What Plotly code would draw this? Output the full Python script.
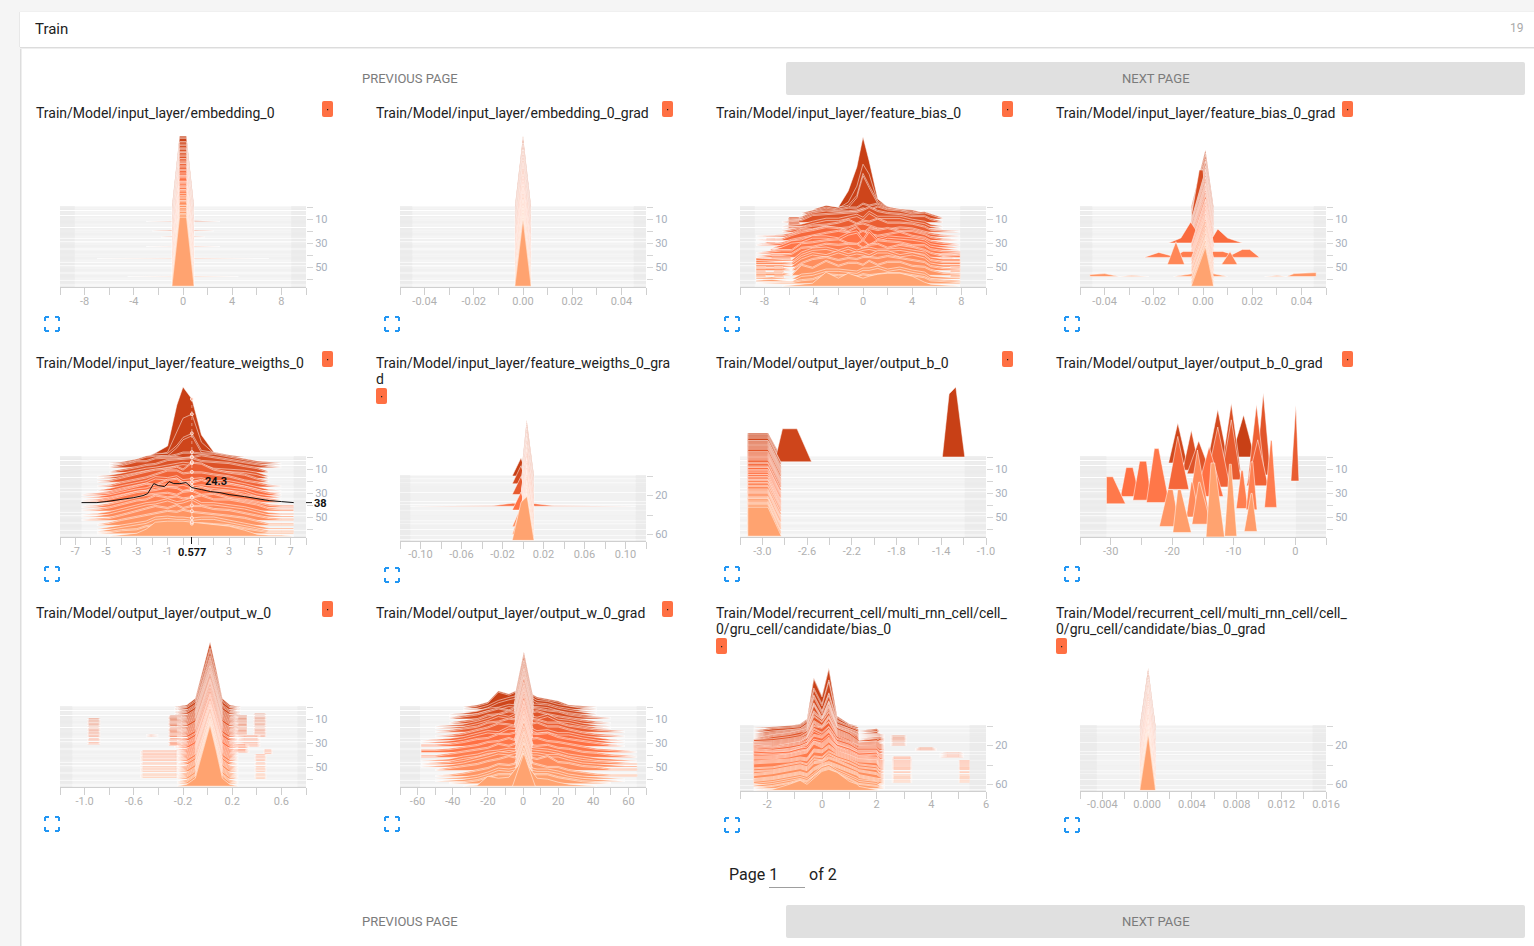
import plotly.graph_objects as go

PAGE_W, PAGE_H = 1534, 946

# ---------- shared data ----------
missing_steps = [3, 7, 17, 26, 29, 35, 46, 49, 55, 61, 65]
recorded_steps = [s for s in range(67) if s not in missing_steps]

panel_titles = [
    ["Train/Model/input_layer/embedding_0"],
    ["Train/Model/input_layer/embedding_0_grad"],
    ["Train/Model/input_layer/feature_bias_0"],
    ["Train/Model/input_layer/feature_bias_0_grad"],
    ["Train/Model/input_layer/feature_weigths_0"],
    ["Train/Model/input_layer/feature_weigths_0_gra", "d"],
    ["Train/Model/output_layer/output_b_0"],
    ["Train/Model/output_layer/output_b_0_grad"],
    ["Train/Model/output_layer/output_w_0"],
    ["Train/Model/output_layer/output_w_0_grad"],
    ["Train/Model/recurrent_cell/multi_rnn_cell/cell_", "0/gru_cell/candidate/bias_0"],
    ["Train/Model/recurrent_cell/multi_rnn_cell/cell_", "0/gru_cell/candidate/bias_0_grad"],
]

# x axis: range, ticks, labels
x_ranges = [[-10, 10], [-0.05, 0.05], [-10, 10], [-0.05, 0.05], [-8, 8], [-0.12, 0.12],
            [-3.2, -1.0], [-35, 5], [-1.2, 0.8], [-70, 70], [-3, 6], [-0.006, 0.016]]
x_ticks = [
    [-10, -8, -6, -4, -2, 0, 2, 4, 6, 8, 10],
    [-0.05, -0.04, -0.03, -0.02, -0.01, 0, 0.01, 0.02, 0.03, 0.04, 0.05],
    [-10, -8, -6, -4, -2, 0, 2, 4, 6, 8, 10],
    [-0.05, -0.04, -0.03, -0.02, -0.01, 0, 0.01, 0.02, 0.03, 0.04, 0.05],
    [-8, -7, -6, -5, -4, -3, -2, -1, 0, 1, 2, 3, 4, 5, 6, 7, 8],
    [-0.12, -0.10, -0.08, -0.06, -0.04, -0.02, 0, 0.02, 0.04, 0.06, 0.08, 0.10, 0.12],
    [-3.2, -3.0, -2.8, -2.6, -2.4, -2.2, -2.0, -1.8, -1.6, -1.4, -1.2, -1.0],
    [-35, -30, -25, -20, -15, -10, -5, 0, 5],
    [-1.2, -1.0, -0.8, -0.6, -0.4, -0.2, 0, 0.2, 0.4, 0.6, 0.8],
    [-70, -60, -50, -40, -30, -20, -10, 0, 10, 20, 30, 40, 50, 60, 70],
    [-3, -2, -1, 0, 1, 2, 3, 4, 5, 6],
    [-0.006, -0.004, -0.002, 0, 0.002, 0.004, 0.006, 0.008, 0.010, 0.012, 0.014, 0.016],
]
x_labels = [
    ["", "-8", "", "-4", "", "0", "", "4", "", "8", ""],
    ["", "-0.04", "", "-0.02", "", "0.00", "", "0.02", "", "0.04", ""],
    ["", "-8", "", "-4", "", "0", "", "4", "", "8", ""],
    ["", "-0.04", "", "-0.02", "", "0.00", "", "0.02", "", "0.04", ""],
    ["", "-7", "", "-5", "", "-3", "", "-1", "", "", "", "3", "", "5", "", "7", ""],
    ["", "-0.10", "", "-0.06", "", "-0.02", "", "0.02", "", "0.06", "", "0.10", ""],
    ["", "-3.0", "", "-2.6", "", "-2.2", "", "-1.8", "", "-1.4", "", "-1.0"],
    ["", "-30", "", "-20", "", "-10", "", "0", ""],
    ["", "-1.0", "", "-0.6", "", "-0.2", "", "0.2", "", "0.6", ""],
    ["", "-60", "", "-40", "", "-20", "", "0", "", "20", "", "40", "", "60", ""],
    ["", "-2", "", "0", "", "2", "", "4", "", "6"],
    ["", "-0.004", "", "0.000", "", "0.004", "", "0.008", "", "0.012", "", "0.016"],
]
# darker band ends of each panel
band_edges = [[-8.8, 8.8], [-0.045, 0.045], [-8.8, 7.9], [-0.045, 0.045], [-6.6, 7.2], [-0.11, 0.11],
              [-3.2, -1.19], [-30.7, 0.1], [-1.1, 0.73], [-58.6, 64.7], [-2.5, 5.4], [-0.0045, 0.0148]]

# ---------- spike families (one peak value per recorded step) ----------
embedding_x = [-0.9, -0.28, 0.28, 0.9]
embedding_shape = [0, 1, 1, 0]
embedding_peaks = [71, 71, 71, 70, 71, 70, 71, 70, 70, 71, 70, 70, 71, 70, 70, 70, 71, 70, 70, 70, 71, 70, 70, 70, 70, 70, 69, 70, 70, 70,
                   69, 70, 70, 70, 69, 70, 70, 69, 70, 70, 70, 69, 70, 70, 69, 70, 70, 69, 70, 69, 70, 69, 70, 69, 69, 69]
embed_grad_x = [-0.0033, 0.0, 0.0033]
embed_grad_shape = [0, 1, 0]
embed_grad_peaks = [71, 70, 70, 69, 70, 69, 70, 69, 69, 70, 69, 69, 70, 69, 69, 69, 70, 69, 69, 69, 69, 69, 69, 69, 68, 69, 69, 68, 69, 68,
                    69, 68, 68, 69, 68, 68, 68, 68, 68, 68, 68, 68, 68, 68, 68, 68, 67, 68, 67, 68, 67, 67, 67, 67, 67, 67]
fbias_grad_x = [-0.0048, 0.001, 0.0043]
fbias_grad_shape = [0, 1, 0]
fbias_grad_peaks = [57, 55, 54, 53, 52, 52, 51, 51, 50, 50, 50, 49, 49, 48, 48, 48, 47, 47, 47, 46, 46, 46, 45, 45, 45, 44, 44, 44, 43, 43,
                    43, 43, 42, 42, 42, 41, 41, 41, 41, 40, 40, 40, 40, 40, 39, 39, 39, 39, 39, 39, 39, 39, 39, 39, 39, 39]
fw_grad_x = [-0.002, 0.0036, 0.0107]
fw_grad_shape = [0, 1, 0]
fw_grad_peaks = [56, 55, 54, 54, 53, 53, 53, 52, 52, 52, 51, 51, 51, 51, 50, 50, 50, 50, 50, 49, 49, 49, 49, 49, 48, 48, 48, 48, 48, 47,
                 47, 47, 47, 47, 46, 46, 46, 46, 46, 46, 46, 45, 45, 45, 45, 45, 45, 45, 45, 44, 44, 44, 44, 44, 44, 44]
b0_x = [-3.13, -3.13, -2.95, -2.83]
b0_shape = [0, 1, 1, 0]
b0_peaks = [24, 25, 25, 26, 26, 26, 26, 27, 27, 27, 27, 27, 27, 27, 27, 27, 27, 27, 27, 27, 27, 27, 27, 27, 27, 27, 27, 28, 27, 27,
            28, 27, 28, 27, 28, 27, 28, 28, 27, 28, 28, 28, 28, 28, 28, 28, 28, 28, 28, 28, 29, 28, 29, 29, 29, 29]
wout_x = [-0.25, -0.17, -0.1, -0.04, 0.02, 0.07, 0.12, 0.18, 0.25]
wout_shape = [0, 0.03, 0.13, 0.58, 1, 0.58, 0.13, 0.03, 0]
wout_peaks = [65, 60, 58, 56, 55, 54, 54, 53, 53, 53, 52, 52, 52, 52, 51, 51, 51, 51, 51, 51, 51, 50, 50, 50, 50, 50, 50, 50, 50, 50,
              50, 50, 51, 51, 51, 51, 52, 52, 52, 53, 53, 53, 54, 54, 55, 55, 56, 56, 57, 57, 58, 58, 59, 60, 60, 61]
wgrad_x = [-6, -3, 0.5, 4, 7]
wgrad_shape = [0, 0.45, 1, 0.45, 0]
wgrad_peaks = [55, 54, 53, 52, 52, 51, 51, 50, 50, 50, 49, 49, 48, 48, 48, 47, 47, 46, 46, 45, 45, 45, 44, 44, 44, 43, 43, 43, 42, 42,
               42, 41, 41, 41, 40, 40, 40, 39, 39, 39, 38, 38, 38, 37, 37, 37, 36, 36, 36, 35, 35, 35, 34, 34, 33, 33]
cbias_grad_x = [-0.00065, 0.0001, 0.00075]
cbias_grad_shape = [0, 1, 0]
cbias_grad_peaks = [58, 58, 58, 58, 57, 58, 57, 58, 57, 57, 58, 57, 57, 57, 57, 57, 57, 57, 57, 57, 57, 57, 57, 57, 57, 57, 57, 56, 57, 56,
                    57, 56, 57, 56, 56, 56, 56, 56, 56, 56, 56, 56, 56, 56, 56, 56, 56, 56, 56, 56, 56, 56, 56, 56, 56, 56]

# ---------- gridded ridges (one row of counts per listed step, held for a few steps) ----------
fbias_bins = [-8.7, -7.4, -6.6, -5.8, -5, -4.1, -3, -2, -1.2, -0.5, 0, 0.5, 1.2, 2, 3, 4, 5, 5.5, 6.5, 7.9]
fbias_steps = [0, 1, 2, 5, 9, 12, 16, 20, 24, 27, 31, 34, 38, 41, 45, 48, 52, 56, 60, 63, 66]
fbias_rows = [
    [0, 0, 0, 0, 0, 0, 0, 0, 16, 40, 70, 46, 8, 0, 0, 0, 0, 0, 0, 0],
    [0, 0, 0, 0, 0, 0, 0, 0, 6, 22, 44, 34, 6, 0, 0, 0, 0, 0, 0, 0],
    [0, 0, 0, 0, 0, 0, 4, 2, 4, 14, 36, 24, 8, 3, 0, 0, 0, 0, 0, 0],
    [0, 0, 0, 0, 0, 3, 6, 4, 6, 6, 10, 8, 10, 6, 4, 3, 0, 0, 0, 0],
    [0, 0, 0, 0, 1, 6, 8, 7, 7, 8, 10, 8, 12, 9, 8, 5, 6, 4, 0, 0],
    [0, 0, 0, 1, 2, 7, 8, 9, 9, 10, 12, 15, 11, 9, 8, 6, 6, 3, 0, 0],
    [0, 0, 0, 1, 2, 5, 8, 8, 10, 12, 9, 15, 10, 10, 10, 7, 5, 2, 0, 0],
    [0, 0, 0, 2, 4, 6, 7, 9, 12, 8, 11, 10, 13, 9, 9, 8, 5, 2, 1, 0],
    [0, 1, 1, 3, 7, 7, 10, 8, 9, 12, 13, 11, 8, 7, 9, 8, 5, 3, 1, 0],
    [0, 1, 1, 5, 8, 10, 13, 12, 9, 13, 7, 12, 10, 12, 9, 9, 6, 3, 1, 0],
    [0, 1, 2, 5, 7, 10, 12, 14, 12, 11, 14, 11, 9, 11, 13, 9, 7, 4, 2, 0],
    [0, 0, 3, 7, 8, 12, 12, 10, 15, 17, 9, 18, 9, 12, 11, 10, 8, 4, 2, 0],
    [0, 2, 3, 3, 10, 11, 13, 14, 10, 9, 13, 8, 13, 12, 11, 8, 8, 4, 2, 1],
    [0, 2, 2, 3, 9, 10, 13, 12, 13, 13, 9, 12, 13, 9, 12, 10, 7, 4, 1, 2],
    [3, 2, 2, 1, 9, 13, 14, 11, 14, 11, 13, 14, 12, 12, 13, 11, 9, 4, 2, 2],
    [2, 2, 2, 1, 8, 12, 10, 14, 11, 13, 12, 10, 14, 14, 10, 12, 9, 4, 2, 2],
    [2, 2, 2, 0, 7, 11, 13, 10, 12, 11, 13, 13, 12, 14, 12, 10, 8, 4, 2, 1],
    [2, 2, 2, 0, 10, 7, 14, 9, 12, 12, 10, 14, 10, 13, 13, 9, 8, 5, 2, 1],
    [1, 2, 1, 0, 5, 6, 10, 10, 9, 8, 11, 11, 13, 10, 12, 9, 7, 3, 2, 1],
    [0, 1, 1, 1, 3, 4, 9, 8, 8, 7, 9, 8, 9, 10, 10, 8, 6, 3, 2, 1],
    [0, 0, 0, 1, 2, 3, 14, 8, 13, 10, 8, 10, 12, 13, 13, 10, 4, 2, 1, 0],
]
fweights_bins = [-6.6, -5.6, -4.8, -4, -3, -2.4, -1.8, -1, -0.4, 0, 0.58, 1.2, 2, 3, 4, 4.8, 5.6, 6.4, 7.2]
fweights_steps = [0, 1, 2, 5, 8, 12, 16, 20, 24, 28, 31, 34, 37, 41, 44, 48, 52, 56, 60, 63, 66]
fweights_rows = [
    [0, 0, 0, 0, 0, 0, 4, 11, 52, 70, 58, 22, 5, 2, 0, 0, 0, 0, 0],
    [0, 0, 0, 0, 0, 0, 3, 6, 26, 40, 44, 16, 5, 0, 0, 0, 0, 0, 0],
    [0, 0, 0, 0, 0, 2, 6, 6, 14, 22, 26, 9, 7, 3, 0, 0, 0, 0, 0],
    [0, 0, 0, 1, 4, 7, 8, 7, 9, 11, 11, 10, 10, 7, 4, 2, 1, 0, 0],
    [0, 0, 0, 2, 6, 6, 9, 10, 10, 9, 10, 12, 10, 8, 5, 3, 1, 0, 0],
    [0, 0, 0, 2, 5, 7, 8, 12, 13, 13, 14, 11, 10, 9, 6, 4, 0, 0, 0],
    [0, 0, 1, 3, 6, 8, 9, 11, 13, 14, 13, 12, 8, 7, 6, 4, 0, 0, 0],
    [0, 0, 1, 4, 8, 10, 12, 13, 15, 12, 19, 18, 12, 9, 7, 3, 0, 0, 0],
    [0, 0, 1, 4, 7, 9, 12, 16, 16, 13, 14, 14, 12, 10, 6, 4, 1, 0, 0],
    [0, 0, 2, 5, 8, 10, 14, 13, 15, 11, 12, 13, 10, 10, 7, 4, 1, 0, 0],
    [0, 1, 2, 5, 9, 11, 10, 15, 16, 12, 12, 15, 11, 11, 8, 5, 2, 0, 0],
    [0, 1, 3, 6, 9, 10, 13, 14, 14, 15, 12, 13, 12, 10, 8, 4, 2, 0, 0],
    [0, 1, 3, 6, 10, 11, 12, 15, 14, 11, 13, 15, 11, 11, 7, 5, 2, 0, 0],
    [0, 1, 3, 6, 9, 12, 13, 14, 12, 15, 16, 12, 13, 9, 7, 5, 2, 1, 1],
    [0, 1, 3, 6, 10, 11, 15, 13, 14, 12, 13, 15, 11, 11, 8, 6, 2, 1, 1],
    [0, 1, 3, 6, 9, 12, 13, 16, 13, 14, 17, 12, 12, 10, 8, 5, 2, 1, 1],
    [0, 1, 2, 5, 9, 11, 14, 12, 15, 12, 14, 14, 11, 10, 7, 4, 2, 1, 1],
    [0, 0, 2, 5, 8, 10, 12, 14, 13, 15, 13, 12, 11, 9, 7, 4, 1, 1, 1],
    [0, 0, 2, 4, 7, 8, 12, 13, 12, 12, 11, 12, 12, 9, 6, 4, 1, 1, 1],
    [0, 0, 1, 3, 4, 7, 8, 10, 10, 10, 9, 10, 9, 8, 5, 3, 1, 1, 1],
    [0, 0, 0, 1, 3, 7, 14, 15, 15, 15, 14, 13, 12, 10, 6, 2, 1, 1, 0],
]
wgrad_bins = [-58, -50, -42, -34, -26, -20, -14, -8, -3, 0, 3, 8, 14, 20, 26, 34, 42, 50, 58, 65]
wgrad_steps = [0, 2, 6, 9, 13, 16, 20, 24, 28, 32, 37, 41, 45, 48, 52, 57, 60, 63, 66]
wgrad_rows = [
    [0, 0, 0, 0, 2, 5, 16, 13, 17, 18, 15, 10, 8, 6, 2, 1, 0, 0, 0, 0],
    [0, 0, 0, 0, 1, 4, 9, 12, 14, 14, 14, 9, 8, 5, 3, 1, 0, 0, 0, 0],
    [0, 0, 0, 1, 3, 6, 7, 10, 9, 12, 10, 10, 9, 6, 4, 2, 0, 0, 0, 0],
    [0, 0, 0, 2, 4, 7, 10, 8, 12, 14, 11, 10, 8, 7, 4, 2, 1, 0, 0, 0],
    [0, 0, 0, 2, 4, 8, 9, 12, 11, 13, 10, 12, 9, 7, 5, 3, 1, 0, 0, 0],
    [0, 0, 1, 2, 5, 8, 12, 10, 14, 13, 11, 9, 12, 7, 6, 3, 1, 0, 0, 0],
    [0, 0, 1, 3, 5, 9, 10, 13, 12, 15, 13, 12, 9, 9, 6, 4, 2, 1, 0, 0],
    [0, 0, 1, 3, 6, 9, 13, 12, 10, 14, 12, 14, 10, 10, 7, 4, 2, 1, 0, 0],
    [0, 1, 2, 4, 7, 10, 9, 14, 13, 16, 14, 10, 11, 8, 8, 5, 3, 1, 0, 0],
    [1, 1, 2, 4, 7, 8, 12, 12, 14, 15, 13, 12, 13, 9, 7, 5, 3, 1, 0, 0],
    [2, 2, 3, 5, 7, 10, 11, 14, 11, 16, 13, 14, 11, 10, 8, 5, 3, 2, 1, 0],
    [1, 1, 3, 5, 7, 9, 13, 11, 14, 15, 12, 11, 12, 9, 8, 5, 4, 2, 1, 0],
    [0, 1, 2, 5, 7, 10, 11, 13, 12, 14, 14, 13, 12, 10, 7, 5, 3, 2, 1, 0],
    [0, 1, 2, 4, 7, 10, 13, 12, 14, 16, 12, 12, 10, 10, 7, 4, 3, 2, 1, 1],
    [0, 0, 2, 4, 6, 9, 11, 14, 12, 15, 13, 11, 14, 8, 7, 4, 3, 1, 1, 1],
    [0, 0, 1, 3, 6, 8, 12, 11, 13, 15, 14, 12, 9, 9, 6, 4, 2, 1, 1, 1],
    [0, 0, 1, 2, 4, 7, 11, 10, 12, 14, 12, 10, 10, 8, 5, 3, 2, 1, 0, 0],
    [0, 0, 0, 1, 3, 6, 9, 9, 11, 13, 10, 9, 9, 6, 4, 2, 1, 0, 0, 0],
    [0, 0, 0, 0, 1, 10, 8, 9, 20, 33, 20, 8, 7, 4, 2, 1, 0, 0, 0, 0],
]
cbias_bins = [-2.5, -1.8, -1.2, -0.8, -0.55, -0.3, 0, 0.25, 0.55, 1, 1.3, 1.35, 2, 2.1, 2.3]
cbias_steps = [0, 2, 5, 9, 13, 16, 20, 24, 27, 31, 34, 38, 42, 47, 52, 56, 60, 63, 66]
cbias_rows = [
    [0, 0, 0, 2, 7, 48, 30, 58, 10, 2, 0, 0, 0, 0, 0],
    [0, 1, 2, 3, 8, 40, 24, 48, 10, 3, 1, 0, 0, 0, 0],
    [0, 3, 4, 5, 10, 36, 20, 38, 10, 5, 2, 0, 2, 0, 0],
    [0, 3, 5, 6, 10, 32, 18, 34, 10, 6, 3, 0, 1, 1, 0],
    [0, 4, 6, 8, 10, 28, 20, 33, 12, 8, 4, 0, 2, 2, 0],
    [2, 3, 5, 7, 11, 28, 22, 32, 14, 9, 3, 1, 3, 1, 0],
    [3, 3, 5, 7, 10, 25, 20, 30, 14, 9, 3, 3, 4, 2, 0],
    [5, 3, 6, 8, 12, 24, 22, 28, 14, 8, 4, 4, 4, 2, 0],
    [6, 5, 7, 9, 12, 24, 20, 26, 14, 10, 5, 5, 5, 2, 0],
    [8, 6, 7, 10, 13, 22, 20, 26, 14, 10, 6, 6, 6, 2, 0],
    [8, 7, 8, 11, 12, 20, 18, 24, 15, 11, 7, 6, 7, 2, 0],
    [7, 7, 9, 11, 13, 22, 18, 24, 16, 11, 8, 7, 6, 2, 0],
    [6, 7, 8, 10, 9, 18, 17, 22, 16, 12, 9, 8, 7, 2, 0],
    [4, 5, 8, 10, 8, 16, 15, 21, 17, 13, 9, 8, 6, 2, 0],
    [3, 5, 8, 10, 8, 15, 16, 20, 17, 12, 8, 7, 4, 2, 0],
    [2, 4, 7, 9, 7, 13, 17, 19, 16, 11, 8, 6, 3, 2, 0],
    [1, 3, 6, 8, 6, 11, 18, 20, 15, 10, 6, 5, 3, 1, 0],
    [0, 2, 5, 8, 6, 12, 18, 20, 15, 9, 5, 4, 2, 1, 0],
    [0, 1, 6, 10, 6, 12, 19, 21, 18, 9, 6, 4, 1, 0, 0],
]
# how many recorded steps each row of a gridded panel is held for
fbias_hold, fweights_hold, wgrad_hold, cbias_hold = 2, 2, 2, 9

# ---------- low patches: first step, last step, bin positions, counts ----------
wout_patches = [
    (0, 36, [-0.27, -0.2, 0.2, 0.27], [0, 1.5, 1.5, 0]),
    (10, 31, [-0.98, -0.96, -0.89, -0.87], [0, 0.8, 0.8, 0]),
    (23, 25, [-0.5, -0.46, -0.4], [0, 0.6, 0]),
    (37, 59, [-0.55, -0.52, -0.26, -0.22], [0, 0.8, 0.8, 0]),
    (8, 32, [-0.32, -0.3, -0.22, -0.2], [0, 1.2, 1.2, 0]),
    (8, 26, [0.2, 0.24, 0.32, 0.32], [0, 1, 1, 0]),
    (6, 26, [0.37, 0.39, 0.46, 0.48], [0, 0.8, 0.8, 0]),
    (24, 33, [0.2, 0.3, 0.4, 0.43], [0, 0.8, 0.8, 0]),
    (40, 60, [0.38, 0.4, 0.46, 0.48], [0, 0.8, 0.8, 0]),
    (35, 39, [0.45, 0.47, 0.51, 0.53], [0, 0.8, 0.8, 0]),
    (32, 38, [0.2, 0.22, 0.3, 0.34], [0, 1.2, 1.2, 0]),
]
fbias_patches = [
    (10, 18, [-6.1, -6.0, -5.2, -5.1], [0, 2, 2, 0]),
    (25, 30, [-8.0, -7.8, -7.2, -7.0], [0, 1, 1, 0]),
    (36, 44, [-7.6, -7.4, -5.9, -5.8], [0, 1.5, 1.5, 0]),
    (39, 44, [6.2, 6.4, 7.2, 7.5], [0, 1, 1, 0]),
    (45, 60, [-8.7, -8.7, -7.9, -7.9], [0, 1.5, 1.5, 0]),
    (45, 60, [-7.3, -7.2, -6.5, -6.4], [0, 1.5, 1.5, 0]),
    (45, 60, [7.1, 7.1, 7.9, 7.9], [0, 1.5, 1.5, 0]),
]
cbias_patches = [
    (10, 20, [2.5, 2.6, 3.0, 3.1], [0, 0.8, 0.8, 0]),
    (32, 58, [2.55, 2.65, 3.2, 3.3], [0, 0.8, 0.8, 0]),
    (23, 25, [3.4, 3.6, 4.0, 4.2], [0, 0.8, 0.8, 0]),
    (28, 32, [4.3, 4.6, 5.0, 5.2], [0, 0.8, 0.8, 0]),
    (36, 58, [5.0, 5.05, 5.4, 5.4], [0, 0.8, 0.8, 0]),
]

# ---------- free-form ridges: step, bin positions, counts ----------
embedding_free = [
    (12, [-3.0, -0.9, 0.9, 3.0], [0, 0.7, 0.7, 0]),
    (20, [-2.5, -0.9, 0.9, 2.5], [0, 0.7, 0.7, 0]),
    (25, [-1.8, -0.9, 0.9, 1.8], [0, 0.6, 0.6, 0]),
    (33, [-3.0, -0.9, 0.9, 3.0], [0, 0.6, 0.6, 0]),
    (43, [-7.0, -0.9, 0.9, 7.0], [0, 0.7, 0.7, 0]),
    (58, [-4.5, -0.9, 0.9, 4.5], [0, 0.7, 0.7, 0]),
]
fbias_grad_free = [
    (2, [-0.0045, -0.0015, 0, 0.002], [0, 30, 30, 0]),
    (6, [-0.0045, -0.0015, 0, 0.002], [0, 38, 38, 0]),
    (10, [-0.0045, -0.0045, -0.0015, 0, 0.002], [0, 6, 49, 49, 0]),
    (30, [-0.014, -0.009, -0.005, -0.0015, 0.004, 0.006, 0.01, 0.016], [0, 5, 21, 8, 6, 14, 5, 0]),
    (42, [-0.024, -0.018, -0.012, -0.008, 0.008, 0.012, 0.016, 0.019, 0.023], [0, 5, 1, 6, 6, 3, 8, 8, 0]),
    (48, [-0.0145, -0.011, -0.0075], [0, 23, 0]),
    (48, [0.0075, 0.011, 0.014], [0, 13, 0]),
    (58, [-0.046, -0.04, -0.034, -0.029, -0.022, -0.012, -0.004, 0.004, 0.01], [2, 3, 0, 1, 0, 0, 3, 3, 0]),
    (58, [0.025, 0.03, 0.034, 0.037, 0.046, 0.046], [0, 1, 0, 3, 4, 0]),
]
fw_grad_free = [
    (0, [-0.0105, -0.002, 0.004], [0, 18, 0]),
    (8, [-0.0105, -0.002, 0.004], [0, 18, 0]),
    (19, [-0.0105, -0.002, 0.004], [0, 18, 0]),
    (31, [-0.11, -0.06, -0.03, -0.01, 0.005, 0.012, 0.03, 0.06, 0.11], [0, 0.5, 0.5, 3, 3, 2.5, 0.5, 0.5, 0]),
    (35, [-0.0105, -0.002, 0.004], [0, 18, 0]),
    (52, [-0.0105, -0.002, 0.004], [0, 20, 0]),
    (60, [-0.0105, 0.0, 0.0107], [0, 34, 0]),
    (66, [-0.0105, -0.002, 0.004, 0.0107], [0, 38, 44, 0]),
]
b0_free = [
    (0, [-1.39, -1.33, -1.27, -1.19], [0, 63, 70, 0]),
    (4, [-2.89, -2.82, -2.69, -2.56], [0, 33, 33, 0]),
]
bgrad_free = [
    (0, [-10.4, -8.4, -6.6], [0, 42, 0]),
    (5, [-20.6, -19.1, -17.6], [0, 40, 0]),
    (7, [-14.4, -12.6, -10.8], [0, 56, 0]),
    (11, [-18.3, -16.9, -15.5], [0, 40, 0]),
    (11, [-12.0, -10.4, -8.9], [0, 67, 0]),
    (14, [-17.6, -15.7, -13.7], [0, 33, 0]),
    (15, [-6.4, -5.2, -4.0], [0, 82, 0]),
    (19, [-12.1, -10.4, -8.8], [0, 60, 0]),
    (20, [-0.7, 0.1, 0.6], [0, 76, 0]),
    (23, [-7.8, -6.3, -4.8], [0, 80, 0]),
    (24, [-7.9, -6.1, -4.4], [0, 46, 0]),
    (25, [-14.7, -12.6, -10.6], [0, 60, 0]),
    (27, [-20.7, -19.1, -17.3], [0, 53, 0]),
    (33, [-28.4, -27.5, -26.4, -25.3], [0, 29, 29, 0]),
    (33, [-16.2, -14.0, -11.7], [0, 50, 0]),
    (36, [-26.4, -25.3, -24.2, -23.4], [0, 39, 39, 0]),
    (38, [-24.2, -22.9, -22.2, -20.5], [0, 54, 54, 0]),
    (39, [-30.7, -30.7, -29.65, -27.6], [0, 27, 27, 0]),
    (42, [-5.0, -4.0, -3.8, -3.0], [0, 67, 67, 0]),
    (43, [-9.6, -8.8, -8.5, -7.7], [0, 38, 38, 0]),
    (44, [-8.0, -7.2, -6.9, -6.2], [0, 48, 48, 0]),
    (50, [-17.6, -15.9, -13.9], [0, 67, 0]),
    (50, [-17.7, -16.9, -16.7, -15.6], [0, 35, 35, 0]),
    (56, [-16.8, -15.7, -15.5, -13.7], [0, 42, 42, 0]),
    (58, [-22.1, -20.7, -19.9, -18.8], [0, 37, 37, 0]),
    (62, [-8.3, -7.2, -7.0, -6.2], [0, 38, 38, 0]),
    (63, [-19.9, -19.1, -18.6, -16.9], [0, 43, 43, 0]),
    (66, [-11.5, -10.7, -10.4, -9.5], [0, 72, 72, 0]),
    (66.6, [-14.5, -13.7, -13.1, -11.5], [0, 74, 74, 0]),
]

# hovered ridge of the feature_weigths panel
hover_value = 0.577
hover_step = 38
hover_count = "24.3"
hover_x = [-6.6, -5.6, -5, -4, -3.2, -2.6, -2.3, -1.9, -1.6, -1.2, -0.9, -0.6, -0.2, 0.2, 0.58, 1.2, 1.8, 2.4, 3, 4, 4.8, 5.6, 6.4, 7.2]
hover_h = [0, 0, 1, 3, 5, 7, 9, 19, 17, 16, 21, 19, 19, 20, 15, 13, 11, 10, 8, 6, 4, 2, 1, 0]


# ---------- page geometry ----------
col_x = [60, 400, 740, 1080]
base_y = [287, 287, 287, 287, 537, 541, 537, 537, 787, 787, 791, 791]
step0_y = [207, 207, 207, 207, 457, 476, 457, 457, 707, 707, 726, 726]
PLOT_W, PLOT_H = 246, 160


def fx(px):
    return px / PAGE_W


def fy(py):
    return 1 - py / PAGE_H


def rect(x0, y0, x1, y1, color, layer="below"):
    return dict(type="rect", xref="paper", yref="paper", x0=fx(x0), x1=fx(x1), y0=fy(y0), y1=fy(y1),
                fillcolor=color, line_width=0, layer=layer)


def round_rect(x0, y0, x1, y1, r, color):
    p = (f"M {fx(x0 + r)} {fy(y0)} L {fx(x1 - r)} {fy(y0)} Q {fx(x1)} {fy(y0)} {fx(x1)} {fy(y0 + r)} "
         f"L {fx(x1)} {fy(y1 - r)} Q {fx(x1)} {fy(y1)} {fx(x1 - r)} {fy(y1)} L {fx(x0 + r)} {fy(y1)} "
         f"Q {fx(x0)} {fy(y1)} {fx(x0)} {fy(y1 - r)} L {fx(x0)} {fy(y0 + r)} Q {fx(x0)} {fy(y0)} {fx(x0 + r)} {fy(y0)} Z")
    return dict(type="path", xref="paper", yref="paper", path=p, fillcolor=color, line_width=0, layer="below")


def seg(x0, y0, x1, y1, color, width=1, layer="above"):
    return dict(type="line", xref="paper", yref="paper", x0=fx(x0), x1=fx(x1), y0=fy(y0), y1=fy(y1),
                line=dict(color=color, width=width), layer=layer)


def text(x, y, s, size=14, color="#212121", anchor="left", bold=False):
    return dict(xref="paper", yref="paper", x=fx(x), y=fy(y), text=f"<b>{s}</b>" if bold else s, showarrow=False,
                xanchor=anchor, yanchor="middle", borderpad=0,
                font=dict(family="Roboto", size=size, color=color))


def ridge_color(step):
    t = min(step / 66.0, 1.0)
    a, b, c = (200, 64, 22), (255, 112, 67), (255, 163, 112)
    if t < 0.5:
        p, q, u = a, b, t / 0.5
    else:
        p, q, u = b, c, (t - 0.5) / 0.5
    return "rgb(%d,%d,%d)" % tuple(p[i] + (q[i] - p[i]) * u for i in range(3))


def positive_runs(xs, hs):
    runs, cur = [], None
    n = len(xs)
    for i in range(n):
        if hs[i] > 0:
            if cur is None:
                cur = [i - 1] if i > 0 else []
            cur.append(i)
        elif cur is not None:
            cur.append(i)
            runs.append(cur)
            cur = None
    if cur is not None:
        runs.append(cur)
    return [([xs[i] for i in r], [hs[i] for i in r]) for r in runs]


def spike_family(xs, shape, peaks):
    return [(s, xs, [v * p for v in shape]) for s, p in zip(recorded_steps, peaks)]


def held_family(bins, steps, rows, hold):
    out = []
    for k, (s, r) in enumerate(zip(steps, rows)):
        stop = steps[k + 1] if k + 1 < len(steps) else s + 1
        held = [t for t in recorded_steps if s <= t < stop][:hold]
        out += [(t, bins, r) for t in held]
    return out


def patch_family(patches):
    out = []
    for s0, s1, xs, hs in patches:
        out += [(t, xs, hs) for t in recorded_steps if s0 <= t <= s1]
    return out


panel_ridges = [
    spike_family(embedding_x, embedding_shape, embedding_peaks) + embedding_free,
    spike_family(embed_grad_x, embed_grad_shape, embed_grad_peaks),
    patch_family(fbias_patches) + held_family(fbias_bins, fbias_steps, fbias_rows, fbias_hold),
    spike_family(fbias_grad_x, fbias_grad_shape, fbias_grad_peaks) + fbias_grad_free,
    held_family(fweights_bins, fweights_steps, fweights_rows, fweights_hold),
    spike_family(fw_grad_x, fw_grad_shape, fw_grad_peaks) + fw_grad_free,
    spike_family(b0_x, b0_shape, b0_peaks) + b0_free,
    bgrad_free,
    patch_family(wout_patches) + spike_family(wout_x, wout_shape, wout_peaks),
    held_family(wgrad_bins, wgrad_steps, wgrad_rows, wgrad_hold) + spike_family(wgrad_x, wgrad_shape, wgrad_peaks),
    patch_family(cbias_patches) + held_family(cbias_bins, cbias_steps, cbias_rows, cbias_hold),
    spike_family(cbias_grad_x, cbias_grad_shape, cbias_grad_peaks),
]

fig = go.Figure()
shapes, annotations = [], []
layout_axes = {}

# page furniture
shapes += [rect(0, 0, PAGE_W, 12, "#f5f5f5"), rect(0, 0, 20, PAGE_H, "#f5f5f5"),
           rect(20, 47, 21.5, PAGE_H, "#dddddd"), rect(20, 47, PAGE_W, 48, "#dcdcdc"), rect(20, 48, PAGE_W, 49, "#efefef"),
           rect(19, 12, 20, 47, "#e8e8e8"), rect(20, 11.5, PAGE_W, 12, "#ececec")]
annotations += [text(34, 29.5, "Train", 15), text(1525, 28, "19", 12, "#aaaaaa", "right")]
for y0 in (62, 905):
    shapes.append(round_rect(786, y0, 1525, y0 + 33, 2, "#e0e0e0"))
    annotations.append(text(1156, y0 + 16.5, "NEXT PAGE", 13, "#7b7b7b", "center"))
    annotations.append(text(409.5, y0 + 16.5, "PREVIOUS PAGE", 13, "#7b7b7b", "center"))
annotations += [text(728, 874, "Page 1", 16), text(808, 874, "of 2", 16)]
shapes.append(seg(769, 887.5, 805, 887.5, "#9e9e9e", 1, "below"))

BLUE = "#2196f3"
for i in range(12):
    ax = i + 1
    suffix = "" if ax == 1 else str(ax)
    col, row = i % 4, i // 4
    left = col_x[col]
    base, top0 = base_y[i], step0_y[i]
    pps = (base - top0) / 66.67
    y_bottom = 66.67
    y_top = -(PLOT_H - (base - top0)) / pps
    wide_steps = top0 == 476 or top0 == 726

    layout_axes[f"xaxis{suffix}"] = dict(
        domain=[fx(left), fx(left + PLOT_W)], anchor=f"y{suffix}", range=x_ranges[i], tickmode="array",
        tickvals=x_ticks[i], ticktext=x_labels[i], showgrid=False, zeroline=False, showline=True, linecolor="#cfcfcf",
        linewidth=1, ticks="outside", ticklen=7, tickcolor="#cfcfcf", tickangle=0,
        ticklabelstandoff=-4 if wide_steps else -3,
        tickfont=dict(family="Roboto", size=11, color="#b0b0b0"))
    layout_axes[f"yaxis{suffix}"] = dict(
        domain=[fy(base), fy(base - PLOT_H)], anchor=f"x{suffix}", side="right", range=[y_bottom, y_top],
        tickmode="array", tickvals=[0, 20, 40, 60] if wide_steps else [0, 10, 20, 30, 40, 50, 60],
        ticktext=["", "20", "", "60"] if wide_steps else ["", "10", "", "30", "", "50", ""],
        showgrid=False, zeroline=False, showline=False, ticks="outside", ticklen=6, tickcolor="#d5d5d5",
        tickfont=dict(family="Roboto", size=11, color="#a8b0bc"))
    axis_ref = dict(xaxis=f"x{suffix}", yaxis=f"y{suffix}")

    # recorded-step bands
    bx, by, ex, ey = [], [], [], []
    x0, x1 = x_ranges[i]
    el, er = band_edges[i]
    for s in recorded_steps:
        bx += [x0, x1, None]
        by += [s, s, None]
        ex += [x0, el, None, er, x1, None]
        ey += [s, s, None, s, s, None]
    fig.add_trace(go.Scatter(x=bx, y=by, mode="lines", line=dict(color="#f1f1f1", width=1.25), hoverinfo="skip", showlegend=False, **axis_ref))
    fig.add_trace(go.Scatter(x=ex, y=ey, mode="lines", line=dict(color="#ebebeb", width=1.25), hoverinfo="skip", showlegend=False, **axis_ref))

    # ridges from oldest to newest
    for step, xs, hs in sorted(panel_ridges[i], key=lambda r: r[0]):
        for rx, rh in positive_runs(xs, hs):
            px_ = list(rx) + [rx[-1], rx[0], rx[0]]
            py_ = [step - h / pps for h in rh] + [step, step, step - rh[0] / pps]
            fig.add_trace(go.Scatter(x=px_, y=py_, mode="lines", fill="toself", fillcolor=ridge_color(step),
                                     line=dict(color="rgba(255,255,255,0.5)", width=1), hoverinfo="skip",
                                     showlegend=False, **axis_ref))

    # title, run chip and expand icon
    lines = panel_titles[i]
    tx = left - 24
    ty = 113 + 250 * row
    for k, line in enumerate(lines):
        annotations.append(text(tx - 1, ty + 16 * k, line, 14))
    if len(lines) == 2:
        cx0, cy0 = tx, ty + 25
    else:
        cx0, cy0 = left + 262, ty - 12
    shapes.append(round_rect(cx0, cy0, cx0 + 11, cy0 + 16, 2, "#ff7043"))
    shapes.append(rect(cx0 + 5, cy0 + 8, cx0 + 6.2, cy0 + 9.2, "#222222", "above"))
    iy = base + (27 if wide_steps else 30)
    ix = left - 15
    for hx, vx, hy, vdir in [(1, 0, 0, 1), (-1, 14, 0, 1), (1, 0, 14, -1), (-1, 14, 14, -1)]:
        xa = ix + vx
        ya = iy + hy
        shapes.append(seg(xa, ya, xa + 4 * hx, ya, BLUE, 2))
        shapes.append(seg(xa, ya, xa, ya + 4 * vdir, BLUE, 2))

# hover decoration on the feature_weigths panel
hx_ = [hover_value] * len(fweights_steps)
hy_ = [s - r[10] / 1.2 for s, r in zip(fweights_steps, fweights_rows)]
fig.add_trace(go.Scatter(x=hx_, y=hy_, mode="lines+markers", line=dict(color="rgba(255,255,255,0.45)", width=1, dash="dot"),
                         marker=dict(size=3, color="rgba(255,170,140,0.7)", line=dict(color="rgba(255,255,255,0.7)", width=1)),
                         hoverinfo="skip", showlegend=False, xaxis="x5", yaxis="y5"))
fig.add_trace(go.Scatter(x=hover_x, y=[hover_step - h / 1.2 for h in hover_h], mode="lines", line=dict(color="#111111", width=1),
                         hoverinfo="skip", showlegend=False, xaxis="x5", yaxis="y5"))
annotations += [text(216, 481, hover_count, 11, "#111111", "center", True),
                text(320, 503, str(hover_step), 11, "#111111", "center", True),
                text(192, 552, str(hover_value), 11, "#111111", "center", True)]
shapes += [seg(191.5, 537, 191.5, 544, "#222222", 1), seg(306, 502.6, 312, 502.6, "#222222", 1)]

fig.update_layout(width=PAGE_W, height=PAGE_H, autosize=False,
                  margin=dict(l=0, r=0, t=0, b=0, pad=0, autoexpand=False),
                  paper_bgcolor="white", plot_bgcolor="rgba(0,0,0,0)", showlegend=False,
                  shapes=shapes, annotations=annotations, **layout_axes)
fig.write_html("out.html", config=dict(displayModeBar=False, responsive=False),
               default_width="1534px", default_height="946px",
               post_script="document.body.style.margin='0';document.body.style.overflow='hidden';")
